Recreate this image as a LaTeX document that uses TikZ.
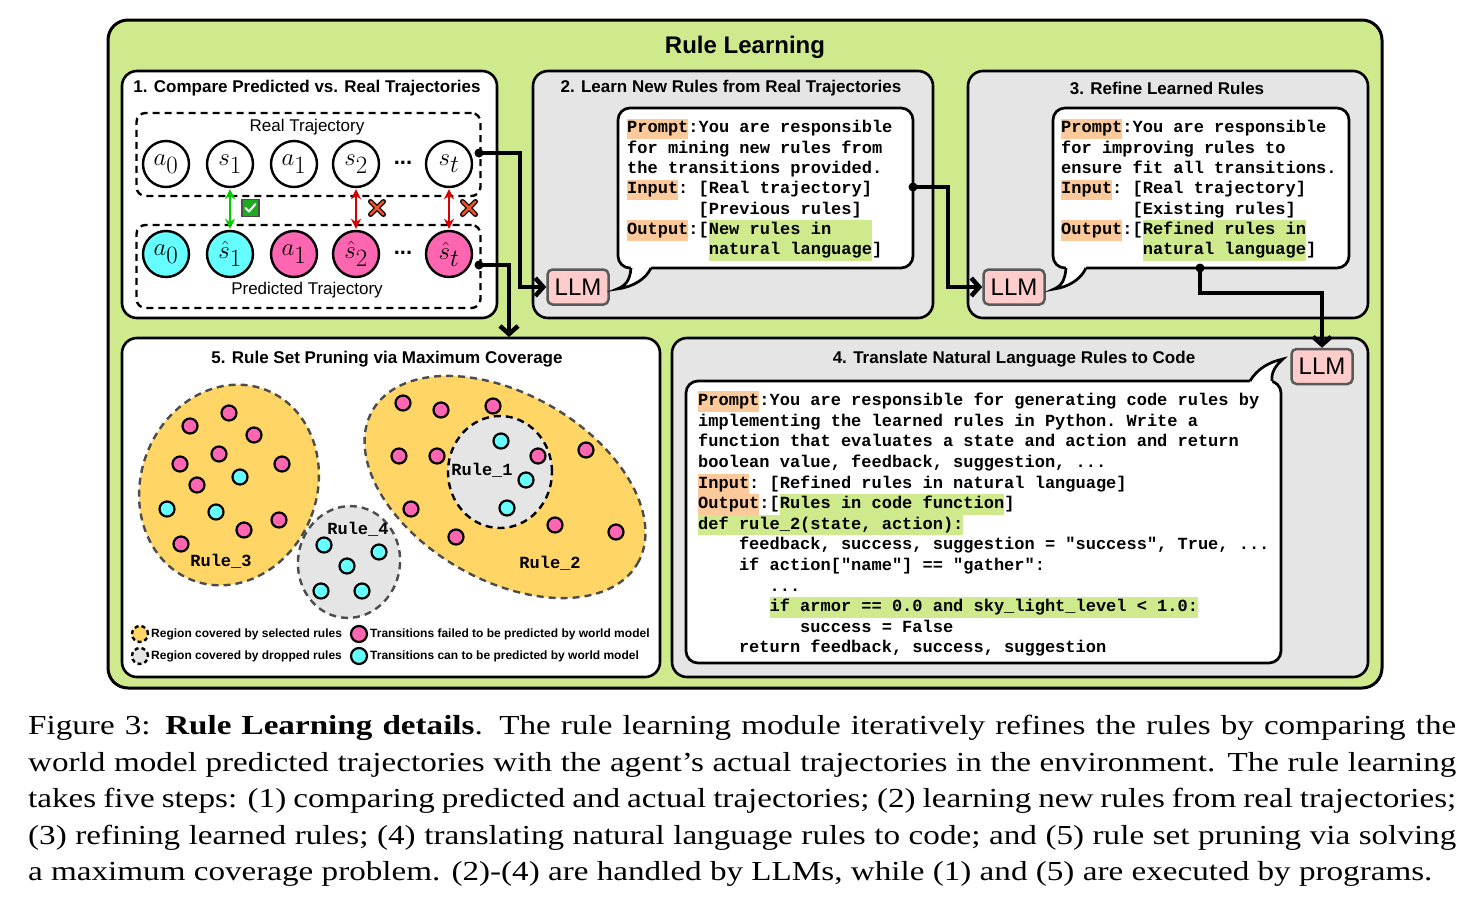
\documentclass[tikz,border=0pt]{standalone}
\usepackage{fontspec}
\setmainfont{Liberation Serif}
\setsansfont{Liberation Sans}
\setmonofont{Liberation Mono}
\newfontfamily\capfont[Ligatures=TeX,FakeStretch=1.205]{Liberation Serif}
\usetikzlibrary{
  arrows.meta
}
\definecolor{rlgreen}{RGB}{207,234,141}
\definecolor{panelgray}{RGB}{229,229,229}
\definecolor{hlorange}{RGB}{252,201,155}
\definecolor{llmpink}{RGB}{255,204,204}
\definecolor{rulegold}{RGB}{255,214,102}
\definecolor{failpink}{RGB}{255,102,178}
\definecolor{okcyan}{RGB}{102,255,255}
\definecolor{okgreen}{RGB}{0,205,0}
\definecolor{badred}{RGB}{215,0,0}
\definecolor{crossred}{RGB}{238,82,40}
\definecolor{checkgreen}{RGB}{30,170,30}

\newcommand{\hlo}[1]{{\setlength{\fboxsep}{0pt}\colorbox{hlorange}{\strut#1}}}
\newcommand{\hlg}[1]{{\setlength{\fboxsep}{0pt}\colorbox{rlgreen}{\strut#1}}}

\tikzset{
  outer box/.style={
    draw,
    line width=3pt,
    rounded corners=20pt,
    fill=rlgreen
  },
  panel/.style={
    draw,
    line width=2.6pt,
    rounded corners=15pt,
    inner sep=0pt
  },
  panel title/.style={
    font=\sffamily\bfseries\fontsize{17}{20}\selectfont
  },
  traj box/.style={
    draw,
    line width=2.4pt,
    dash pattern=on 7pt off 5pt,
    rounded corners=9pt,
    minimum width=344pt,
    minimum height=83pt,
    inner sep=0pt
  },
  traj node/.style={
    circle,
    draw,
    line width=2.4pt,
    minimum size=46pt,
    inner sep=0pt,
    font=\fontsize{33}{33}\selectfont
  },
  match/.style={
    line width=2pt,
    {Stealth[length=10pt,width=10pt]}-{Stealth[length=10pt,width=10pt]},
    shorten <=1pt,
    shorten >=1pt
  },
  cross edge/.style={
    line width=5pt,
    line cap=round
  },
  cross core/.style={
    line width=2.6pt,
    line cap=round,
    crossred
  },
  llm/.style={
    draw=black!65,
    line width=2.5pt,
    fill=llmpink,
    rounded corners=5pt,
    minimum width=61pt,
    minimum height=35pt,
    inner sep=0pt,
    font=\sffamily\fontsize{24}{24}\selectfont
  },
  bubble/.style={
    draw,
    line width=2.7pt,
    fill=white,
    rounded corners=12pt,
    inner sep=0pt
  },
  bubble line/.style={
    line width=2.7pt
  },
  prompt text/.style={
    anchor=north west,
    align=left,
    inner sep=0pt,
    font=\ttfamily\bfseries\frenchspacing\fontsize{17}{20.3}\selectfont
  },
  flow/.style={
    line width=4.5pt,
    -{Straight Barb[length=8pt,width=18pt]}
  },
  rule region/.style={
    draw=black!70,
    line width=2.4pt,
    dash pattern=on 7pt off 5pt
  },
  rule label/.style={
    font=\ttfamily\bfseries\fontsize{17}{20}\selectfont
  },
  fail dot/.style={
    circle,
    draw,
    line width=2.2pt,
    fill=failpink,
    minimum size=15pt,
    inner sep=0pt
  },
  ok dot/.style={
    circle,
    draw,
    line width=2.2pt,
    fill=okcyan,
    minimum size=15pt,
    inner sep=0pt
  },
  legend mark/.style={
    circle,
    draw,
    line width=2.4pt,
    dash pattern=on 4pt off 3pt,
    minimum size=16pt,
    inner sep=0pt
  },
  legend text/.style={
    anchor=west,
    inner sep=0pt,
    font=\sffamily\bfseries\fontsize{12}{14}\selectfont
  },
  caption/.style={
    anchor=north west,
    text width=1428pt,
    align=justify,
    inner sep=0pt,
    font=\capfont\fontsize{27.5}{36.5}\selectfont
  }
}

\begin{document}
\begin{tikzpicture}[x=1pt, y=-1pt]

    \fill[white] (0,0) rectangle (1464,900);
    \useasboundingbox (0,0) rectangle (1464,900);

    % ---------- frame ----------
    \node[outer box, minimum width=1274pt, minimum height=668pt] (rl) at (745,354) {};
    \node[font=\sffamily\bfseries\fontsize{24}{28}\selectfont] (rltitle) at (745,47) {Rule Learning};

    \node[panel, fill=white, minimum width=375pt, minimum height=247pt] (p1) at (309.5,194.5) {};
    \node[panel, fill=panelgray, minimum width=400pt, minimum height=247pt] (p2) at (733,194.5) {};
    \node[panel, fill=panelgray, minimum width=400pt, minimum height=247pt] (p3) at (1168,194.5) {};
    \node[panel, fill=white, minimum width=538pt, minimum height=339pt] (p5) at (391,507.5) {};
    \node[panel, fill=panelgray, minimum width=696pt, minimum height=339pt] (p4) at (1020,507.5) {};

    \node[panel title] (t1) at (307,88) {1. Compare Predicted vs. Real Trajectories};
    \node[panel title] (t2) at (731,88) {2. Learn New Rules from Real Trajectories};
    \node[panel title] (t3) at (1167,88) {3. Refine Learned Rules};
    \node[panel title] (t4) at (1014,359) {4. Translate Natural Language Rules to Code};
    \node[panel title] (t5) at (387,359) {5. Rule Set Pruning via Maximum Coverage};

    % ---------- 1. trajectories ----------
    \node[traj box] (realbox) at (308.5,154.5) {};
    \node[traj box] (predbox) at (308.5,266.5) {};
    \node[font=\sffamily\fontsize{17}{20}\selectfont] (realtitle) at (307,127) {Real Trajectory};
    \node[font=\sffamily\fontsize{17}{20}\selectfont] (predtitle) at (307,290) {Predicted Trajectory};

    \node[traj node, fill=white] (a0r) at (166,164) {$a_0$};
    \node[traj node, fill=white] (s1r) at (230,164) {$s_1$};
    \node[traj node, fill=white] (a1r) at (294,164) {$a_1$};
    \node[traj node, fill=white] (s2r) at (356,164) {$s_2$};
    \node[traj node, fill=white] (str) at (449,164) {$s_t$};
    \node[font=\sffamily\bfseries\fontsize{22}{22}\selectfont] (dotsr) at (403,163) {...};

    \node[traj node, fill=okcyan] (a0p) at (166,254) {$a_0$};
    \node[traj node, fill=okcyan] (s1p) at (230,254) {$\hat{s}_1$};
    \node[traj node, fill=failpink] (a1p) at (294,254) {$a_1$};
    \node[traj node, fill=failpink] (s2p) at (356,254) {$\hat{s}_2$};
    \node[traj node, fill=failpink] (stp) at (449,254) {$\hat{s}_t$};
    \node[font=\sffamily\bfseries\fontsize{22}{22}\selectfont] (dotsp) at (403,253) {...};

    % match / mismatch
    \draw[match, okgreen] (s1r) -- (s1p);
    \draw[match, badred] (s2r) -- (s2p);
    \draw[match, badred] (str) -- (stp);

    \node[draw=black!70, line width=1.5pt, fill=checkgreen, minimum size=17pt, inner sep=0pt] (okbox) at (250.5,208) {};
    \draw[white, line width=2pt, line cap=round, line join=round]
      (okbox.center) +(-5,0) -- +(-1.5,3.5) -- +(5,-4);

    \foreach \cx in {377,469} {
      \draw[cross edge] (\cx-6.5,201.5) -- (\cx+6.5,214.5) (\cx-6.5,214.5) -- (\cx+6.5,201.5);
      \draw[cross core] (\cx-6.5,201.5) -- (\cx+6.5,214.5) (\cx-6.5,214.5) -- (\cx+6.5,201.5);
    }

    % ---------- 2. learn new rules ----------
    \node[llm] (llm2) at (578,287) {LLM};
    \node[bubble, minimum width=295pt, minimum height=160pt] (bub2) at (765.5,188) {};
    \fill[white] (631,262) -- (631,268) .. controls (630,281) and (625,286) .. (617,289)
      .. controls (633,287) and (646,279) .. (651,268) -- (651,262) -- cycle;
    \draw[bubble line] (631,268) .. controls (630,281) and (625,286) .. (617,289)
      .. controls (633,287) and (646,279) .. (651,268);
    \node[prompt text] (txt2) at (627,118.5) {%
      \hlo{Prompt}:You are responsible\\
      for mining new rules from\\
      the transitions provided.\\
      \hlo{Input}: [Real trajectory]\\
      ~~~~~~~[Previous rules]\\
      \hlo{Output}:[\hlg{New rules in~~~~}\\
      ~~~~~~~~\hlg{natural language}]};

    % ---------- 3. refine rules ----------
    \node[llm] (llm3) at (1014,287) {LLM};
    \node[bubble, minimum width=296pt, minimum height=160pt] (bub3) at (1201,188) {};
    \fill[white] (1066,262) -- (1066,268) .. controls (1065,281) and (1061,286) .. (1054,289)
      .. controls (1069,287) and (1081,279) .. (1086,268) -- (1086,262) -- cycle;
    \draw[bubble line] (1066,268) .. controls (1065,281) and (1061,286) .. (1054,289)
      .. controls (1069,287) and (1081,279) .. (1086,268);
    \node[prompt text] (txt3) at (1061,118.5) {%
      \hlo{Prompt}:You are responsible\\
      for improving rules to\\
      ensure fit all transitions.\\
      \hlo{Input}: [Real trajectory]\\
      ~~~~~~~[Existing rules]\\
      \hlo{Output}:[\hlg{Refined rules in}\\
      ~~~~~~~~\hlg{natural language}]};

    % ---------- 4. rules to code ----------
    \node[llm] (llm4) at (1322,366.5) {LLM};
    \node[bubble, minimum width=595pt, minimum height=282pt] (bub4) at (983.5,522) {};
    \fill[white] (1250,387) -- (1250,381) .. controls (1257,369) and (1269,362) .. (1283,359)
      .. controls (1275,366) and (1271,373) .. (1272,381) -- (1272,387) -- cycle;
    \draw[bubble line] (1250,381) .. controls (1257,369) and (1269,362) .. (1283,359)
      .. controls (1275,366) and (1271,373) .. (1272,381);
    \node[prompt text, font=\ttfamily\bfseries\frenchspacing\fontsize{17}{20.6}\selectfont] (txt4) at (698,391) {%
      \hlo{Prompt}:You are responsible for generating code rules by\\
      implementing the learned rules in Python. Write a\\
      function that evaluates a state and action and return\\
      boolean value, feedback, suggestion, ...\\
      \hlo{Input}: [Refined rules in natural language]\\
      \hlo{Output}:[\hlg{Rules in code function}]\\
      \hlg{def rule\_2(state, action):}\\
      ~~~~feedback, success, suggestion = "success", True, ...\\
      ~~~~if action["name"] == "gather":\\
      ~~~~~~~...\\
      ~~~~~~~\hlg{if armor == 0.0 and sky\_light\_level < 1.0:}\\
      ~~~~~~~~~~success = False\\
      ~~~~return feedback, success, suggestion};

    % ---------- 5. pruning ----------
    \draw[rule region, fill=rulegold, rotate around={-21:(229,485)}]
      (229,485) ellipse [x radius=88pt, y radius=102pt];
    \draw[rule region, fill=panelgray, rotate around={-8:(349,562)}]
      (349,562) ellipse [x radius=51pt, y radius=56pt];
    \draw[rule region, fill=rulegold, rotate around={-30:(505,487)}]
      (505,487) ellipse [x radius=153pt, y radius=93pt];
    \draw[rule region, draw=black, fill=panelgray]
      (500,472) ellipse [x radius=52pt, y radius=56pt];

    \foreach \x/\y [count=\i] in {229/413,190/426,254/435,219/454,180/464,282/464,197/485,
        279/520,244/530,181/544,403/403,441/410,493/406,399/456,437/456,538/456,586/450,
        411/509,456/537,555/525,616/532}
      \node[fail dot] (fail\i) at (\x,\y) {};
    \foreach \x/\y [count=\i] in {240/477,167/509,216/512,324/545,379/552,347/566,
        321/591,362/591,501/441,526/480,507/508}
      \node[ok dot] (ok\i) at (\x,\y) {};

    \node[rule label] (r1) at (482,470) {Rule\_1};
    \node[rule label] (r2) at (550,563) {Rule\_2};
    \node[rule label] (r3) at (221,561) {Rule\_3};
    \node[rule label] (r4) at (358,529) {Rule\_4};

    % legend
    \node[legend mark, fill=rulegold] (lgsel) at (140,634) {};
    \node[legend text] (lgseltxt) at (151,634) {Region covered by selected rules};
    \node[fail dot, minimum size=16pt] (lgfail) at (359,634) {};
    \node[legend text] (lgfailtxt) at (370,634) {Transitions failed to be predicted by world model};
    \node[legend mark, fill=panelgray] (lgdrop) at (140,656) {};
    \node[legend text] (lgdroptxt) at (151,656) {Region covered by dropped rules};
    \node[ok dot, minimum size=16pt] (lgok) at (359,656) {};
    \node[legend text] (lgoktxt) at (370,656) {Transitions can to be predicted by world model};

    % ---------- connectors ----------
    \coordinate (stout) at (479,153);
    \coordinate (hatout) at (479,265);
    \coordinate (p5in) at (509,337);
    \coordinate (b2out) at (913,187);
    \coordinate (b3out) at (1200,268);

    \draw[flow] (stout) -- ++(41,0) |- (llm2.west);
    \draw[flow] (hatout) -| (p5in);
    \draw[flow] (b2out) -- ++(35,0) |- (llm3.west);
    \draw[flow] (b3out) -- ++(0,25) -| (llm4.north);
    \foreach \c in {stout,hatout,b2out,b3out}
      \fill (\c) circle (4.5pt);

    % caption
    \node[caption] (cap) at (28,715) {Figure 3: \textbf{Rule Learning details}. The rule learning module iteratively refines the rules by comparing the\linebreak
      world model predicted trajectories with the agent's actual trajectories in the environment. The rule learning\linebreak
      takes five steps: (1) comparing predicted and actual trajectories; (2) learning new rules from real trajectories;\linebreak
      (3) refining learned rules; (4) translating natural language rules to code; and (5) rule set pruning via solving\linebreak
      a maximum coverage problem. (2)-(4) are handled by LLMs, while (1) and (5) are executed by programs.};

\end{tikzpicture}
\end{document}
